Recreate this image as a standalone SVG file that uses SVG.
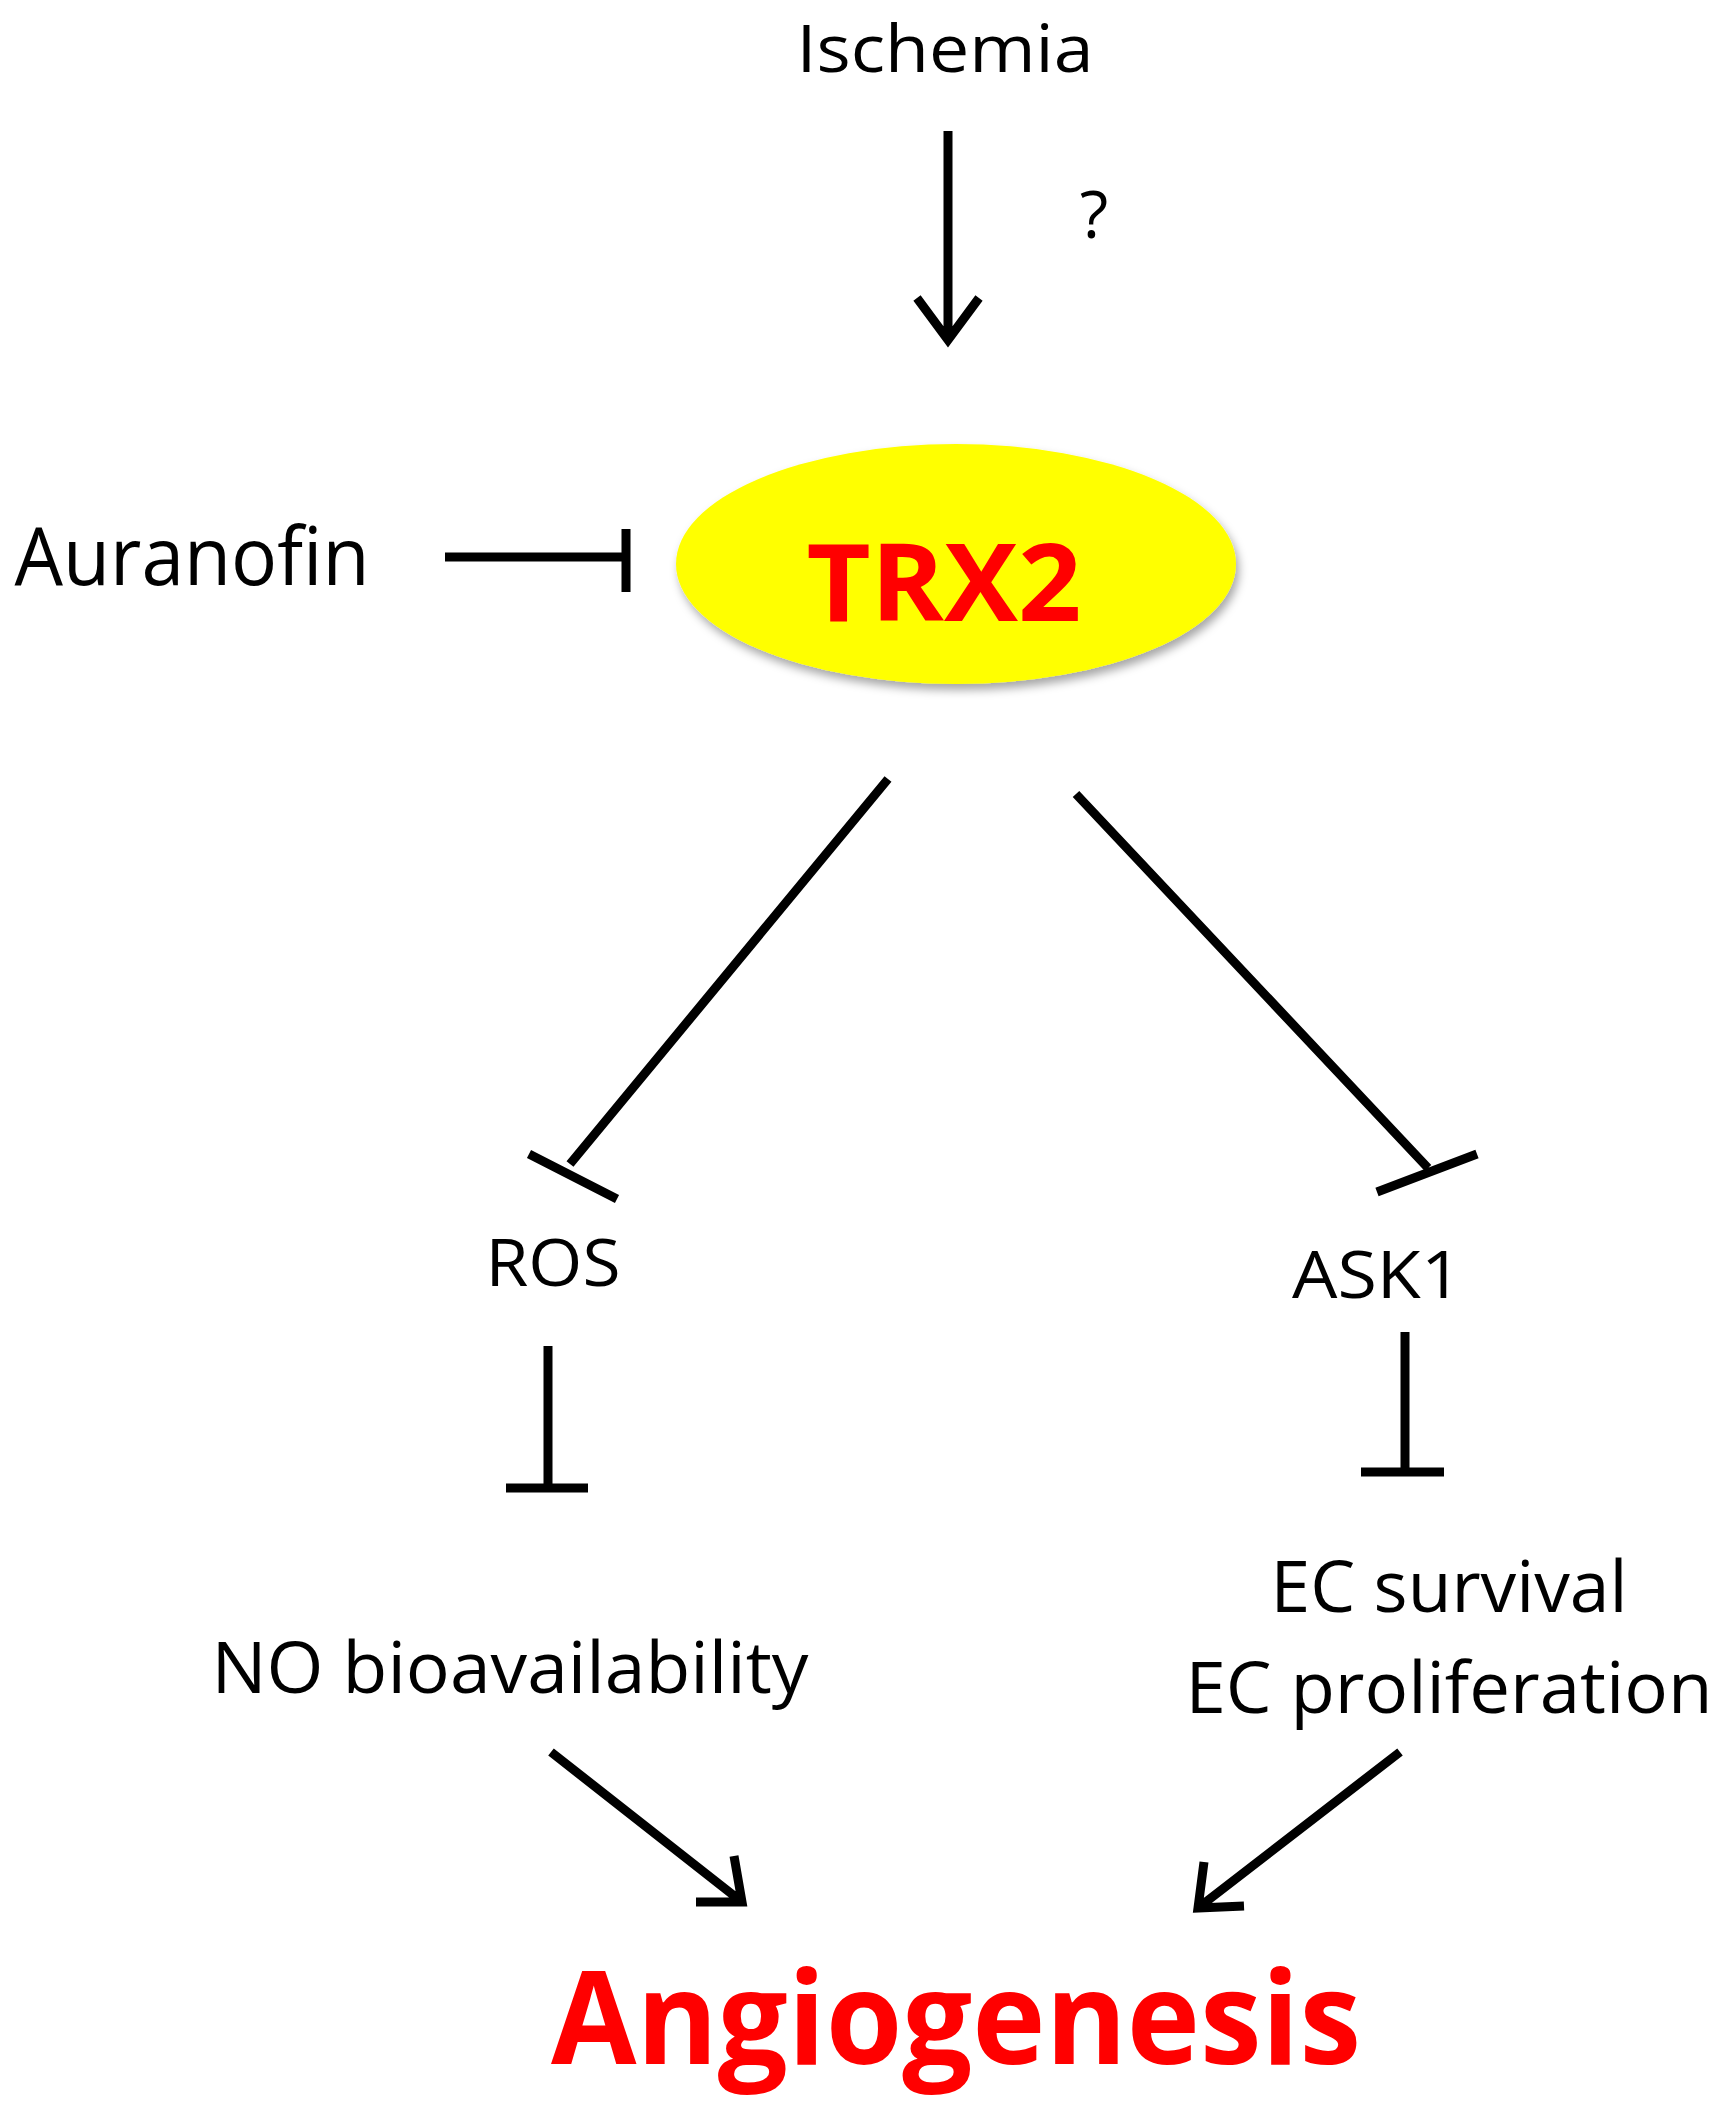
<svg xmlns="http://www.w3.org/2000/svg" width="1728" height="2117" viewBox="0 0 1728 2117">
<style>
text{font-family:"Open Sans","Liberation Sans",sans-serif;fill:#000;text-anchor:middle}
.c{stroke:#000;stroke-width:9;fill:none}
.red{fill:#f00;font-weight:bold}
</style>
<defs>
<filter id="sh" x="-20%" y="-20%" width="140%" height="150%"><feDropShadow dx="3" dy="6" stdDeviation="5" flood-color="#000" flood-opacity="0.35"/></filter>
</defs>
<rect width="1728" height="2117" fill="#fff"/>
<g id="ischemia"><text x="945" y="72" font-size="66" textLength="297" lengthAdjust="spacingAndGlyphs">Ischemia</text></g>
<g id="q"><text x="1094" y="238" font-size="66">?</text></g>
<g id="trx2"><ellipse cx="956" cy="564" rx="280" ry="120" fill="#ff0" filter="url(#sh)"/><text class="red" x="944" y="621" font-size="108" textLength="275" lengthAdjust="spacingAndGlyphs">TRX2</text></g>
<g id="auranofin"><text x="192" y="585" font-size="80" textLength="355" lengthAdjust="spacingAndGlyphs">Auranofin</text></g>
<g id="ros"><text x="553" y="1286" font-size="66" textLength="135" lengthAdjust="spacingAndGlyphs">ROS</text></g>
<g id="ask1"><text x="1377" y="1298" font-size="66" textLength="170" lengthAdjust="spacingAndGlyphs">ASK1</text></g>
<g id="no"><text x="510" y="1693" font-size="72" textLength="597" lengthAdjust="spacingAndGlyphs">NO bioavailability</text></g>
<g id="ec"><text x="1449" y="1612" font-size="72" textLength="357" lengthAdjust="spacingAndGlyphs">EC survival</text><text x="1449" y="1713" font-size="72" textLength="527" lengthAdjust="spacingAndGlyphs">EC proliferation</text></g>
<g id="angiogenesis"><text class="red" x="956" y="2064" font-size="130" textLength="810" lengthAdjust="spacingAndGlyphs">Angiogenesis</text></g>
<g id="connectors" class="c">
<path d="M948 131V338M917 298L948 340L979 298"/>
<path d="M445 557H626M626 529V592"/>
<path d="M888 779L570 1164M529 1154L617 1199"/>
<path d="M1076 794L1428 1168M1377 1192L1477 1154"/>
<path d="M548 1346V1486M506 1488H588"/>
<path d="M1405 1332V1470M1361 1472H1444"/>
<path d="M551 1752L742 1902M696 1902L742 1902L734 1856"/>
<path d="M1400 1752L1198 1908M1204 1862L1198 1908L1244 1906"/>
</g>
</svg>
